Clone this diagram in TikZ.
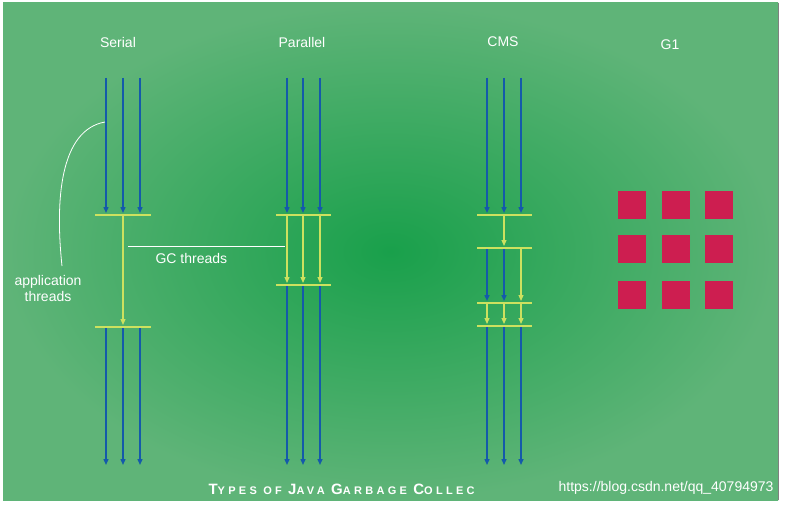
\documentclass[tikz,border=0pt]{standalone}
\usepackage{fontspec}
\setmainfont{Liberation Sans}
\newfontfamily\capfont[LetterSpace=30]{Liberation Sans}
\usetikzlibrary{arrows.meta}
\definecolor{bgin}{RGB}{25,160,75}
\definecolor{bgout}{RGB}{95,180,120}
\definecolor{app}{RGB}{20,90,170}
\definecolor{gcy}{RGB}{205,225,95}
\definecolor{sq}{RGB}{205,30,80}
\begin{document}
\begin{tikzpicture}[x=1pt,y=-1pt,
  appl/.style={app,line width=1.4pt,-{Triangle[length=6pt,width=5pt]}},
  gcl/.style={gcy,line width=1.2pt,-{Triangle[length=6pt,width=5pt]}},
  bar/.style={gcy,line width=1.3pt},
  lbl/.style={white,font=\fontsize{14}{16}\selectfont},
  sqs/.style={fill=sq,draw=none,minimum size=28pt,inner sep=0pt}]
\useasboundingbox (0,0) rectangle (786,508);
\fill[white] (0,0) rectangle (786,508);
\shade[inner color=bgin,outer color=bgout] (3,3) rectangle (778,500);
\draw[gray,line width=1pt] (778,3) -- (778,500);
% titles
\node[lbl] (t1) at (118,42) {Serial};
\node[lbl] (t2) at (302,42) {Parallel};
\node[lbl] (t3) at (503,42) {CMS};
\node[lbl] (t4) at (670,45) {G1};
% Serial
\foreach \x in {106,123,140}{
  \draw[appl] (\x,78) -- (\x,213);
  \draw[appl] (\x,328) -- (\x,465);}
\draw[bar] (95,215) -- (151,215);
\draw[bar] (95,327) -- (151,327);
\draw[gcl] (123,215) -- (123,325);
% Parallel
\foreach \x in {287,303,320}{
  \draw[appl] (\x,78) -- (\x,213);
  \draw[gcl] (\x,215) -- (\x,283);
  \draw[appl] (\x,286) -- (\x,465);}
\draw[bar] (276,215) -- (331,215);
\draw[bar] (276,285) -- (331,285);
% CMS
\foreach \x in {487,504,521}{
  \draw[appl] (\x,78) -- (\x,213);
  \draw[gcl] (\x,303) -- (\x,324);
  \draw[appl] (\x,327) -- (\x,465);}
\draw[gcl] (504,215) -- (504,246);
\draw[appl] (487,249) -- (487,301);
\draw[appl] (504,249) -- (504,301);
\draw[gcl] (521,248) -- (521,301);
\foreach \y in {215,248,303,326} \draw[bar] (477,\y) -- (532,\y);
% G1
\foreach \x in {632,676,719}
  \foreach \y in {205,249,295}
    \node[sqs] at (\x,\y) {};
% labels
\node[lbl,anchor=west] (gc) at (152,258) {GC threads};
\draw[white,line width=0.8pt] (128,246) -- (285,246);
\node[lbl,align=center] (ap) at (48,288) {application\\threads};
\draw[white,line width=0.8pt] (105,122) .. controls (60,130) and (55,200) .. (62,266);
\node[white,anchor=west,font=\capfont\bfseries\fontsize{15}{16}\selectfont] (cap) at (205,489) {T\fontsize{11}{12}\selectfont YPES O\fontsize{11}{12}\selectfont F \fontsize{15}{16}\selectfont J\fontsize{11}{12}\selectfont AVA \fontsize{15}{16}\selectfont G\fontsize{11}{12}\selectfont ARBAGE \fontsize{15}{16}\selectfont C\fontsize{11}{12}\selectfont OLLEC};
\node[white,anchor=east,font=\fontsize{14}{16}\selectfont] (url) at (777,488) {https://blog.csdn.net/qq\_40794973};
\end{tikzpicture}
\end{document}
